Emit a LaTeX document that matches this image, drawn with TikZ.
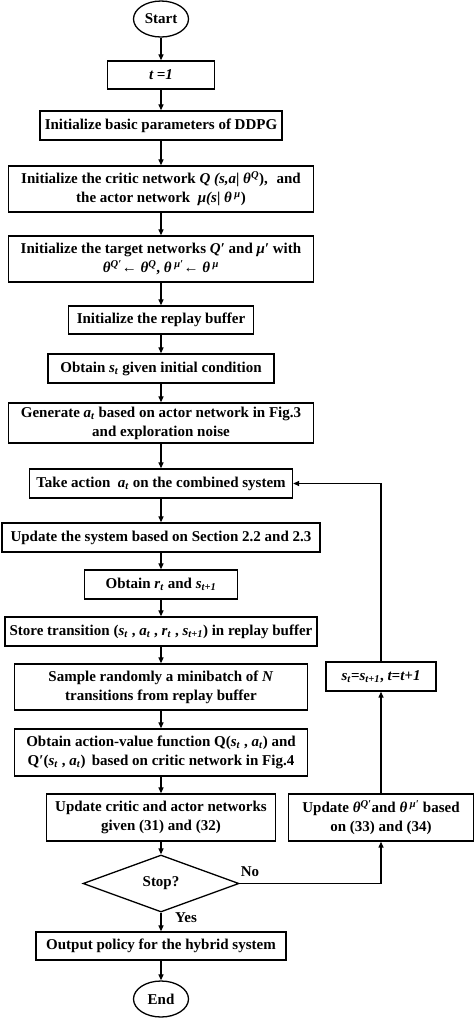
\documentclass[tikz,border=0pt]{standalone}
\usepackage{fontspec}
\setmainfont{Liberation Serif}
\usetikzlibrary{shapes.geometric,arrows.meta}
\newcommand\iv[1]{\textit{#1}}
\newcommand\sub[1]{\textsubscript{\textit{#1}}}
\begin{document}
\begin{tikzpicture}[x=1pt,y=-1pt,
  box/.style={draw, line width=1.3pt, inner sep=0pt, align=center,
    font=\bfseries\fontsize{15}{19}\selectfont},
  term/.style={box, ellipse, minimum width=55pt, minimum height=36pt},
  arr/.style={-{Triangle[length=6pt,width=5pt]}, line width=1.2pt},
  lbl/.style={font=\bfseries\fontsize{15}{17}\selectfont}]
\useasboundingbox (0,0) rectangle (474,1018);
\node[term] (start) at (161,19) {Start};
\node[box, minimum width=107pt, minimum height=28pt] (t1) at (161,75) {\iv{t =1}};
\node[box, minimum width=242pt, minimum height=29pt] (init) at (161,125.5) {Initialize basic parameters of DDPG};
\node[box, minimum width=305pt, minimum height=46pt] (critic) at (161,189) {Initialize the critic network \iv{Q (s,a}| \iv{θ\textsuperscript{Q}}),\,\, and\\the actor network \ \iv{μ(s}| \iv{θ\textsuperscript{ μ}})};
\node[box, minimum width=305pt, minimum height=46pt] (target) at (161,259) {Initialize the target networks \iv{Q′} and \iv{μ′} with\\\iv{θ\textsuperscript{Q′}}← \iv{θ\textsuperscript{Q}}, \iv{θ\textsuperscript{ μ′}}← \iv{θ\textsuperscript{ μ}}};
\node[box, minimum width=185pt, minimum height=28pt] (replay) at (161,320) {Initialize the replay buffer};
\node[box, minimum width=226pt, minimum height=29pt] (obs) at (161,368.5) {Obtain \iv{s}\sub{t} given initial condition};
\node[box, minimum width=305pt, minimum height=40pt] (gen) at (161,423) {Generate \iv{a}\sub{t} based on actor network in Fig.3\\and exploration noise};
\node[box, minimum width=263pt, minimum height=29pt] (take) at (161,483.5) {Take action \ \iv{a}\sub{t} on the combined system};
\node[box, minimum width=318pt, minimum height=29pt] (upsys) at (161,537.5) {Update the system based on Section 2.2 and 2.3};
\node[box, minimum width=153pt, minimum height=29pt] (obr) at (161,584.5) {Obtain \iv{r}\sub{t} and \iv{s}\sub{t+1}};
\node[box, minimum width=312pt, minimum height=29pt] (store) at (161,631.5) {Store transition (\iv{s}\sub{t} , \iv{a}\sub{t} , \iv{r}\sub{t} , \iv{s}\sub{t+1}) in replay buffer};
\node[box, minimum width=293pt, minimum height=46pt] (sample) at (161,687) {Sample randomly a minibatch of \iv{N}\\transitions from replay buffer};
\node[box, minimum width=293pt, minimum height=47pt] (qval) at (161,752.5) {Obtain action-value function Q(\iv{s}\sub{t} , \iv{a}\sub{t}) and\\Q′(\iv{s}\sub{t} , \iv{a}\sub{t})\, based on critic network in Fig.4};
\node[box, minimum width=229pt, minimum height=47pt] (upd) at (161,817.5) {Update critic and actor networks\\given (31) and (32)};
\node[box, diamond, minimum width=156pt, minimum height=57pt] (stop) at (161,883.5) {Stop?};
\node[box, minimum width=250pt, minimum height=28pt] (out) at (161,946) {Output policy for the hybrid system};
\node[term] (end) at (161,999) {End};
\node[box, minimum width=185pt, minimum height=47pt] (upd2) at (381,817.5) {Update \iv{θ\textsuperscript{Q′}}and \iv{θ\textsuperscript{ μ′}} based\\on (33) and (34)};
\node[box, minimum width=110pt, minimum height=29pt] (sst) at (381,676.5) {\iv{s}\sub{t}=\iv{s}\sub{t+1}, \iv{t=t+1}};
\node[lbl] (no) at (250,872) {No};
\node[lbl] (yes) at (186,918) {Yes};
\foreach \a/\b in {start/t1,t1/init,init/critic,critic/target,target/replay,replay/obs,obs/gen,gen/take,take/upsys,upsys/obr,obr/store,store/sample,sample/qval,qval/upd,upd/stop,stop/out,out/end}
  \draw[arr] (\a.south) -- (\a.south |- \b.north);
\draw[arr] (stop.east) -| (upd2.south);
\draw[arr] (upd2.north) -- (sst.south);
\draw[arr] (sst.north) |- (take.east);
\end{tikzpicture}
\end{document}
